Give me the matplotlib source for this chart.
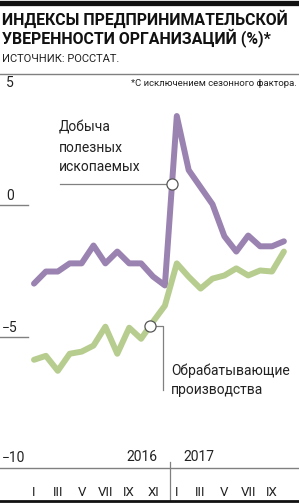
import matplotlib
matplotlib.use("Agg")
import matplotlib.pyplot as plt
import numpy as np
from matplotlib.lines import Line2D

# months Jan 2016 .. Oct 2017
months = list(range(22))
mining = [-2.98, -2.52, -2.52, -2.21, -2.21, -1.53, -2.21, -1.76, -2.21, -2.21, -2.71, -3.05,
          3.4, 1.34, 0.69, 0.04, -1.18, -1.76, -1.15, -1.56, -1.56, -1.37]
manuf = [-5.88, -5.73, -6.3, -5.65, -5.57, -5.34, -4.62, -5.65, -4.66, -5.08, -4.43, -3.82,
         -2.21, -2.72, -3.17, -2.79, -2.67, -2.4, -2.67, -2.48, -2.52, -1.76]
tick_pos = [0, 2, 4, 6, 8, 10, 12, 14, 16, 18, 20]
tick_lab = ["I", "III", "V", "VII", "IX", "XI", "I", "III", "V", "VII", "IX"]

PURPLE = "#9b83b1"
GREEN = "#b7cd8f"
GRAY = "#808080"

plt.rcParams["font.family"] = ["Roboto", "DejaVu Sans"]

W, H = 299, 503
fig = plt.figure(figsize=(W / 100, H / 100), dpi=100)

def fx(x):
    return x / W

def fy(y):
    return 1 - y / H

# axes: y=5 at 74px, y=-10 at 468px; month 0 at 34px, 11.9px per month
y_top, y_bot = 74, 468
ax = fig.add_axes([0, fy(y_bot), 1, (y_bot - y_top) / H])
x0 = -34 / 11.9
x1 = (W - 34) / 11.9
ax.set_xlim(x0, x1)
ax.set_ylim(-10, 5)
for s in ax.spines.values():
    s.set_visible(False)
ax.set_yticks([])

# grid lines
ax.axhline(5, color=GRAY, lw=1.0, clip_on=False)
ax.axhline(-10, color=GRAY, lw=1.0, clip_on=False)
short = x0 + 28 / 11.9
ax.plot([x0, short], [0, 0], color=GRAY, lw=1.0)
ax.plot([x0, short], [-5, -5], color=GRAY, lw=1.0)

ax.plot(months, mining, color=PURPLE, lw=4.3, solid_capstyle="round", solid_joinstyle="round", zorder=3)
ax.plot(months, manuf, color=GREEN, lw=4.3, solid_capstyle="round", solid_joinstyle="round", zorder=3)

# annotations
m_pt = 11.6
m_val = np.interp(m_pt, months, mining)
ax.plot([x0 + 60 / 11.9, m_pt], [m_val, m_val], color=GRAY, lw=0.9, zorder=4)
ax.plot(m_pt, m_val, "o", ms=8, mfc="white", mec="#555555", mew=0.9, zorder=5)

g_pt = 9.75
g_val = np.interp(g_pt, months, manuf)
gx = g_pt + 1.07
ax.plot([g_pt, gx, gx], [g_val, g_val, g_val - 2.45], color=GRAY, lw=0.9, zorder=4)
ax.plot(g_pt, g_val, "o", ms=8, mfc="white", mec="#555555", mew=0.9, zorder=5)

# divider between years
ax.plot([11.45, 11.45], [-9.77, -11.27], color=GRAY, lw=0.9, clip_on=False)

ax.set_xticks(tick_pos)
ax.set_xticklabels(tick_lab, fontsize=9.5, color="#222222")
ax.tick_params(axis="x", length=0, pad=13)

# title, shrunk to fit the reference width
t1 = fig.text(fx(2), fy(19), "ИНДЕКСЫ ПРЕДПРИНИМАТЕЛЬСКОЙ", fontsize=13, fontweight="bold",
              va="center", ha="left", color="#111111")
t2 = fig.text(fx(2), fy(38), "УВЕРЕННОСТИ ОРГАНИЗАЦИЙ (%)*", fontsize=13, fontweight="bold",
              va="center", ha="left", color="#111111")
r = fig.canvas.get_renderer()
w1 = t1.get_window_extent(r).width
size = 13 * 284 / w1
t1.set_fontsize(size)
t2.set_fontsize(size)

fig.text(fx(2), fy(59), "ИСТОЧНИК: РОССТАТ.", fontsize=8, va="center", ha="left", color="#222222")
fig.text(fx(297), fy(84), "*С исключением сезонного фактора.", fontsize=6.8, va="center", ha="right", color="#222222")

fig.text(fx(6), fy(83), "5", fontsize=10, va="center", ha="left", color="#222222")
fig.text(fx(6), fy(196), "0", fontsize=10, va="center", ha="left", color="#222222")
fig.text(fx(2), fy(328), "\u22125", fontsize=10, va="center", ha="left", color="#222222")
fig.text(fx(2), fy(458), "\u221210", fontsize=10, va="center", ha="left", color="#222222")
fig.text(fx(157), fy(457), "2016", fontsize=10, va="center", ha="right", color="#222222")
fig.text(fx(183), fy(457), "2017", fontsize=10, va="center", ha="left", color="#222222")

fig.text(fx(59), fy(128), "Добыча", fontsize=10, va="center", ha="left", color="#222222")
fig.text(fx(59), fy(148), "полезных", fontsize=10, va="center", ha="left", color="#222222")
fig.text(fx(59), fy(167), "ископаемых", fontsize=10, va="center", ha="left", color="#222222")
fig.text(fx(171), fy(371), "Обрабатывающие", fontsize=10, va="center", ha="left", color="#222222")
fig.text(fx(171), fy(390), "производства", fontsize=10, va="center", ha="left", color="#222222")

# top and bottom black rules
fig.add_artist(Line2D([0, 1], [fy(2.5), fy(2.5)], color="#111111", lw=3.8))
fig.add_artist(Line2D([0, 1], [fy(501), fy(501)], color="#111111", lw=2.0))

fig.savefig("out.png", dpi=100)
